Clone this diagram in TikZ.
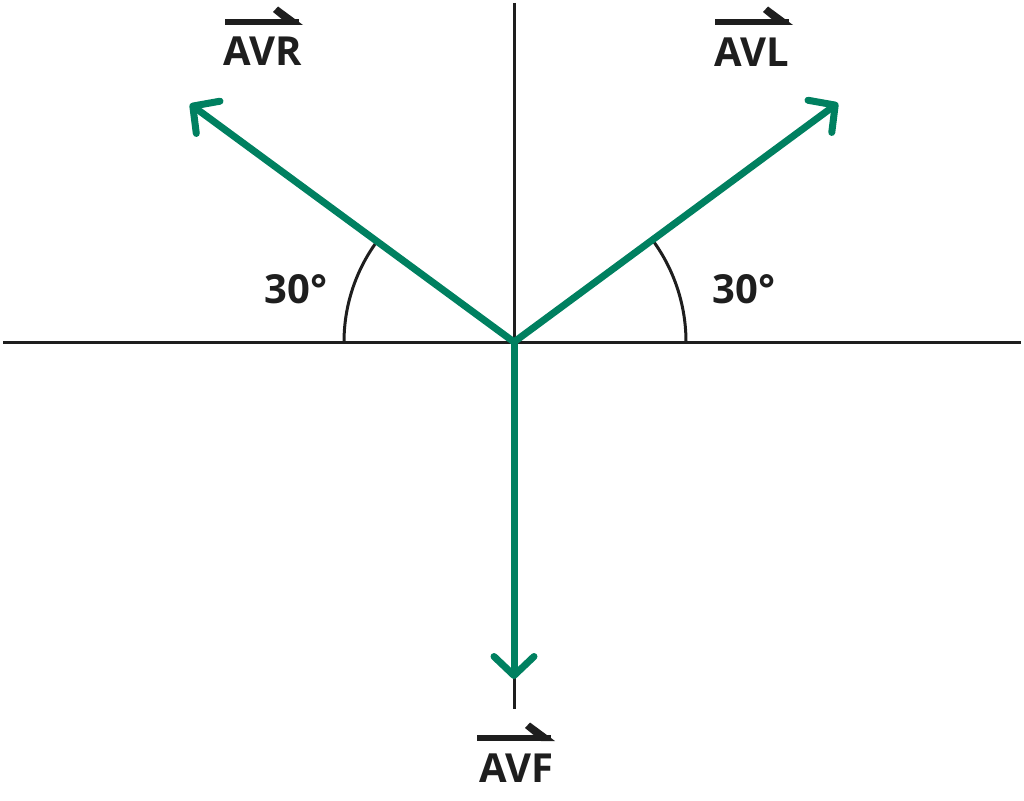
\documentclass[tikz,border=0pt]{standalone}
\usepackage{fontspec}
\setmainfont{Open Sans}
\usetikzlibrary{arrows.meta}
\definecolor{vgreen}{RGB}{0,128,96}
\definecolor{ink}{RGB}{30,30,30}
\tikzset{
  axis/.style={draw=ink, line width=3pt},
  vec/.style={draw=vgreen, line width=7pt, -{Straight Barb[length=19pt,width=40pt,line cap=round,round]}},
  anglearc/.style={draw=ink, line width=3pt},
  lbl/.style={font=\fontsize{40}{40}\selectfont\bfseries, text=ink, inner sep=0pt},
  overbar/.style={draw=ink, line width=6pt},
  barb/.style={fill=ink, draw=none}
}
\begin{document}
\begin{tikzpicture}[x=1pt,y=-1pt]
\useasboundingbox (0,0) rectangle (1024,800);
\coordinate (O) at (514,342);
\coordinate (Lx) at (3,342);
\coordinate (Rx) at (1021,342);
\coordinate (Ty) at (514,3);
\coordinate (By) at (514,709);
\coordinate (tipR) at (190,104);
\coordinate (tipL) at (838,103);
\coordinate (tipF) at (514,679);
% axes
\draw[axis] (Lx) -- (Rx);
\draw[axis] (Ty) -- (By);
% angle arcs
\coordinate (aL) at (344,342);
\coordinate (aR) at (686,342);
\draw[anglearc] (aL) arc[start angle=180, end angle=216.3, radius=170];
\draw[anglearc] (aR) arc[start angle=0, end angle=-36.3, radius=172];
% vectors
\draw[vec] (O) -- (tipR);
\draw[vec] (O) -- (tipL);
\draw[vec] (O) -- (tipF);
% labels
\node[lbl] (avr) at (263,51) {AVR};
\node[lbl] (avl) at (752,52) {AVL};
\node[lbl] (avf) at (516,768) {AVF};
\node[lbl] (degL) at (296,289) {30°};
\node[lbl] (degR) at (744,289) {30°};
% over-arrows
\foreach \xa/\ya in {225/22, 715/22, 477/738}{
  \draw[overbar] (\xa,\ya) -- ++(74,0);
  \fill[barb] (\xa+78,\ya+3) -- (\xa+53,\ya-15.5) -- (\xa+48,\ya-10) -- (\xa+64,\ya+3) -- cycle;
}
\end{tikzpicture}
\end{document}
